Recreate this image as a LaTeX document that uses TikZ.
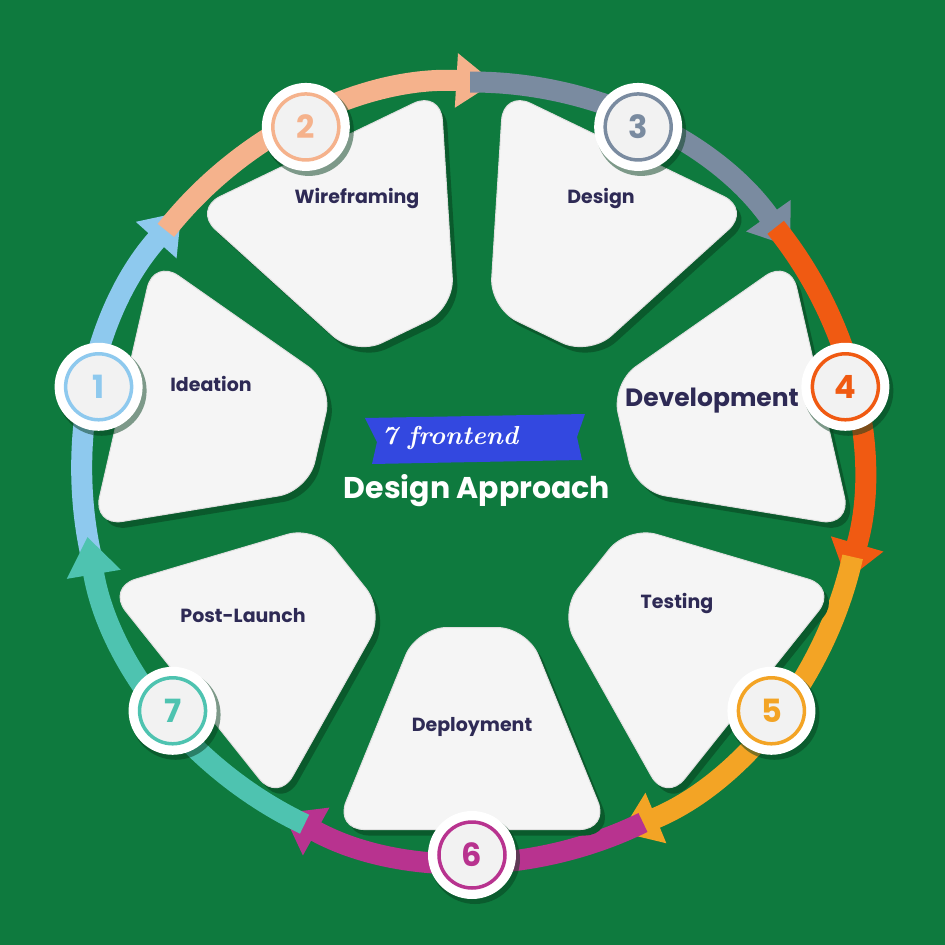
\documentclass[tikz,border=0pt]{standalone}
\usepackage{fontspec}
\setmainfont{Poppins}
\newfontfamily\scriptf{Latin Modern Roman}
\usetikzlibrary{arrows.meta}
\definecolor{bg}{HTML}{0E7A3E}
\definecolor{bgdark}{HTML}{0A5A2C}
\definecolor{navy}{HTML}{2E2A55}
\definecolor{c1}{HTML}{8EC9EE}
\definecolor{c2}{HTML}{F5B28C}
\definecolor{c3}{HTML}{7A8BA0}
\definecolor{c4}{HTML}{F05A12}
\definecolor{c5}{HTML}{F3A425}
\definecolor{c6}{HTML}{B8338F}
\definecolor{c7}{HTML}{4EC3B0}
\definecolor{brush}{HTML}{3348E0}
\tikzset{
  panel/.style={fill=white!96!black, draw=white!88!black, line width=1pt, rounded corners=30pt},
  pshadow/.style={fill=bgdark, rounded corners=30pt},
  lbl/.style={text=navy, font=\bfseries\fontsize{19}{22}\selectfont},
  numout/.style={circle, fill=white, minimum size=88pt, inner sep=0pt},
  numin/.style={circle, fill=white!95!black, line width=3.5pt, minimum size=66pt, inner sep=0pt, font=\bfseries\fontsize{32}{34}\selectfont},
}
\begin{document}
\begin{tikzpicture}
\useasboundingbox[fill=bg] (-472pt,-473pt) rectangle (473pt,472pt);
% ring arrows
\foreach \i/\c in {1/c1,2/c2,3/c3,4/c4,5/c5,6/c6,7/c7}{
  \pgfmathsetmacro{\t}{-90-51.4286*(\i-6)}
  \draw[line width=21pt, color=\c, -{Triangle[length=38pt,width=52pt]}]
    (\t+26:390pt) arc[start angle=\t+26, end angle=\t-29, radius=390pt];
}
% panels
\foreach \i in {1,...,7}{
  \pgfmathsetmacro{\t}{-90-51.4286*(\i-6)}
  \fill[pshadow, shift={(5pt,-6pt)}] (\t-19.5:165pt) -- (\t+19.5:165pt) -- (\t+21:383pt) -- (\t-21:383pt) -- cycle;
  \draw[panel] (\t-19.5:165pt) -- (\t+19.5:165pt) -- (\t+21:383pt) -- (\t-21:383pt) -- cycle;
}
% labels
\node[lbl] (l1) at (-261pt,88pt) {Ideation};
\node[lbl] (l2) at (-115pt,273pt) {Wireframing};
\node[lbl] (l3) at (129pt,273pt) {Design};
\node[lbl, font=\bfseries\fontsize{25}{28}\selectfont] (l4) at (240pt,71pt) {Development};
\node[lbl] (l5) at (205pt,-132pt) {Testing};
\node[lbl] (l6) at (0pt,-255pt) {Deployment};
\node[lbl] (l7) at (-229pt,-144pt) {Post-Launch};
% numbers
\foreach \i/\c in {1/c1,2/c2,3/c3,4/c4,5/c5,6/c6,7/c7}{
  \pgfmathsetmacro{\t}{-90-51.4286*(\i-6)}
  \fill[bgdark!70!black, opacity=0.5] ([shift={(3pt,-4pt)}]\t:383pt) circle (45pt);
  \node[numout] (o\i) at (\t:383pt) {};
  \node[numin, draw=\c, text=\c] (n\i) at (o\i) {\i};
}
% center title
\fill[brush] (-107pt,54pt) -- (113pt,58pt) -- (105pt,35pt) -- (110pt,12pt) -- (-100pt,8pt) -- (-95pt,30pt) -- cycle;
\node[text=white, font=\scriptf\bfseries\itshape\fontsize{26}{28}\selectfont] (t1) at (-22pt,34pt) {7 frontend};
\node[text=white, font=\bfseries\fontsize{30}{34}\selectfont] (t2) at (5pt,-19pt) {Design Approach};
\end{tikzpicture}
\end{document}
